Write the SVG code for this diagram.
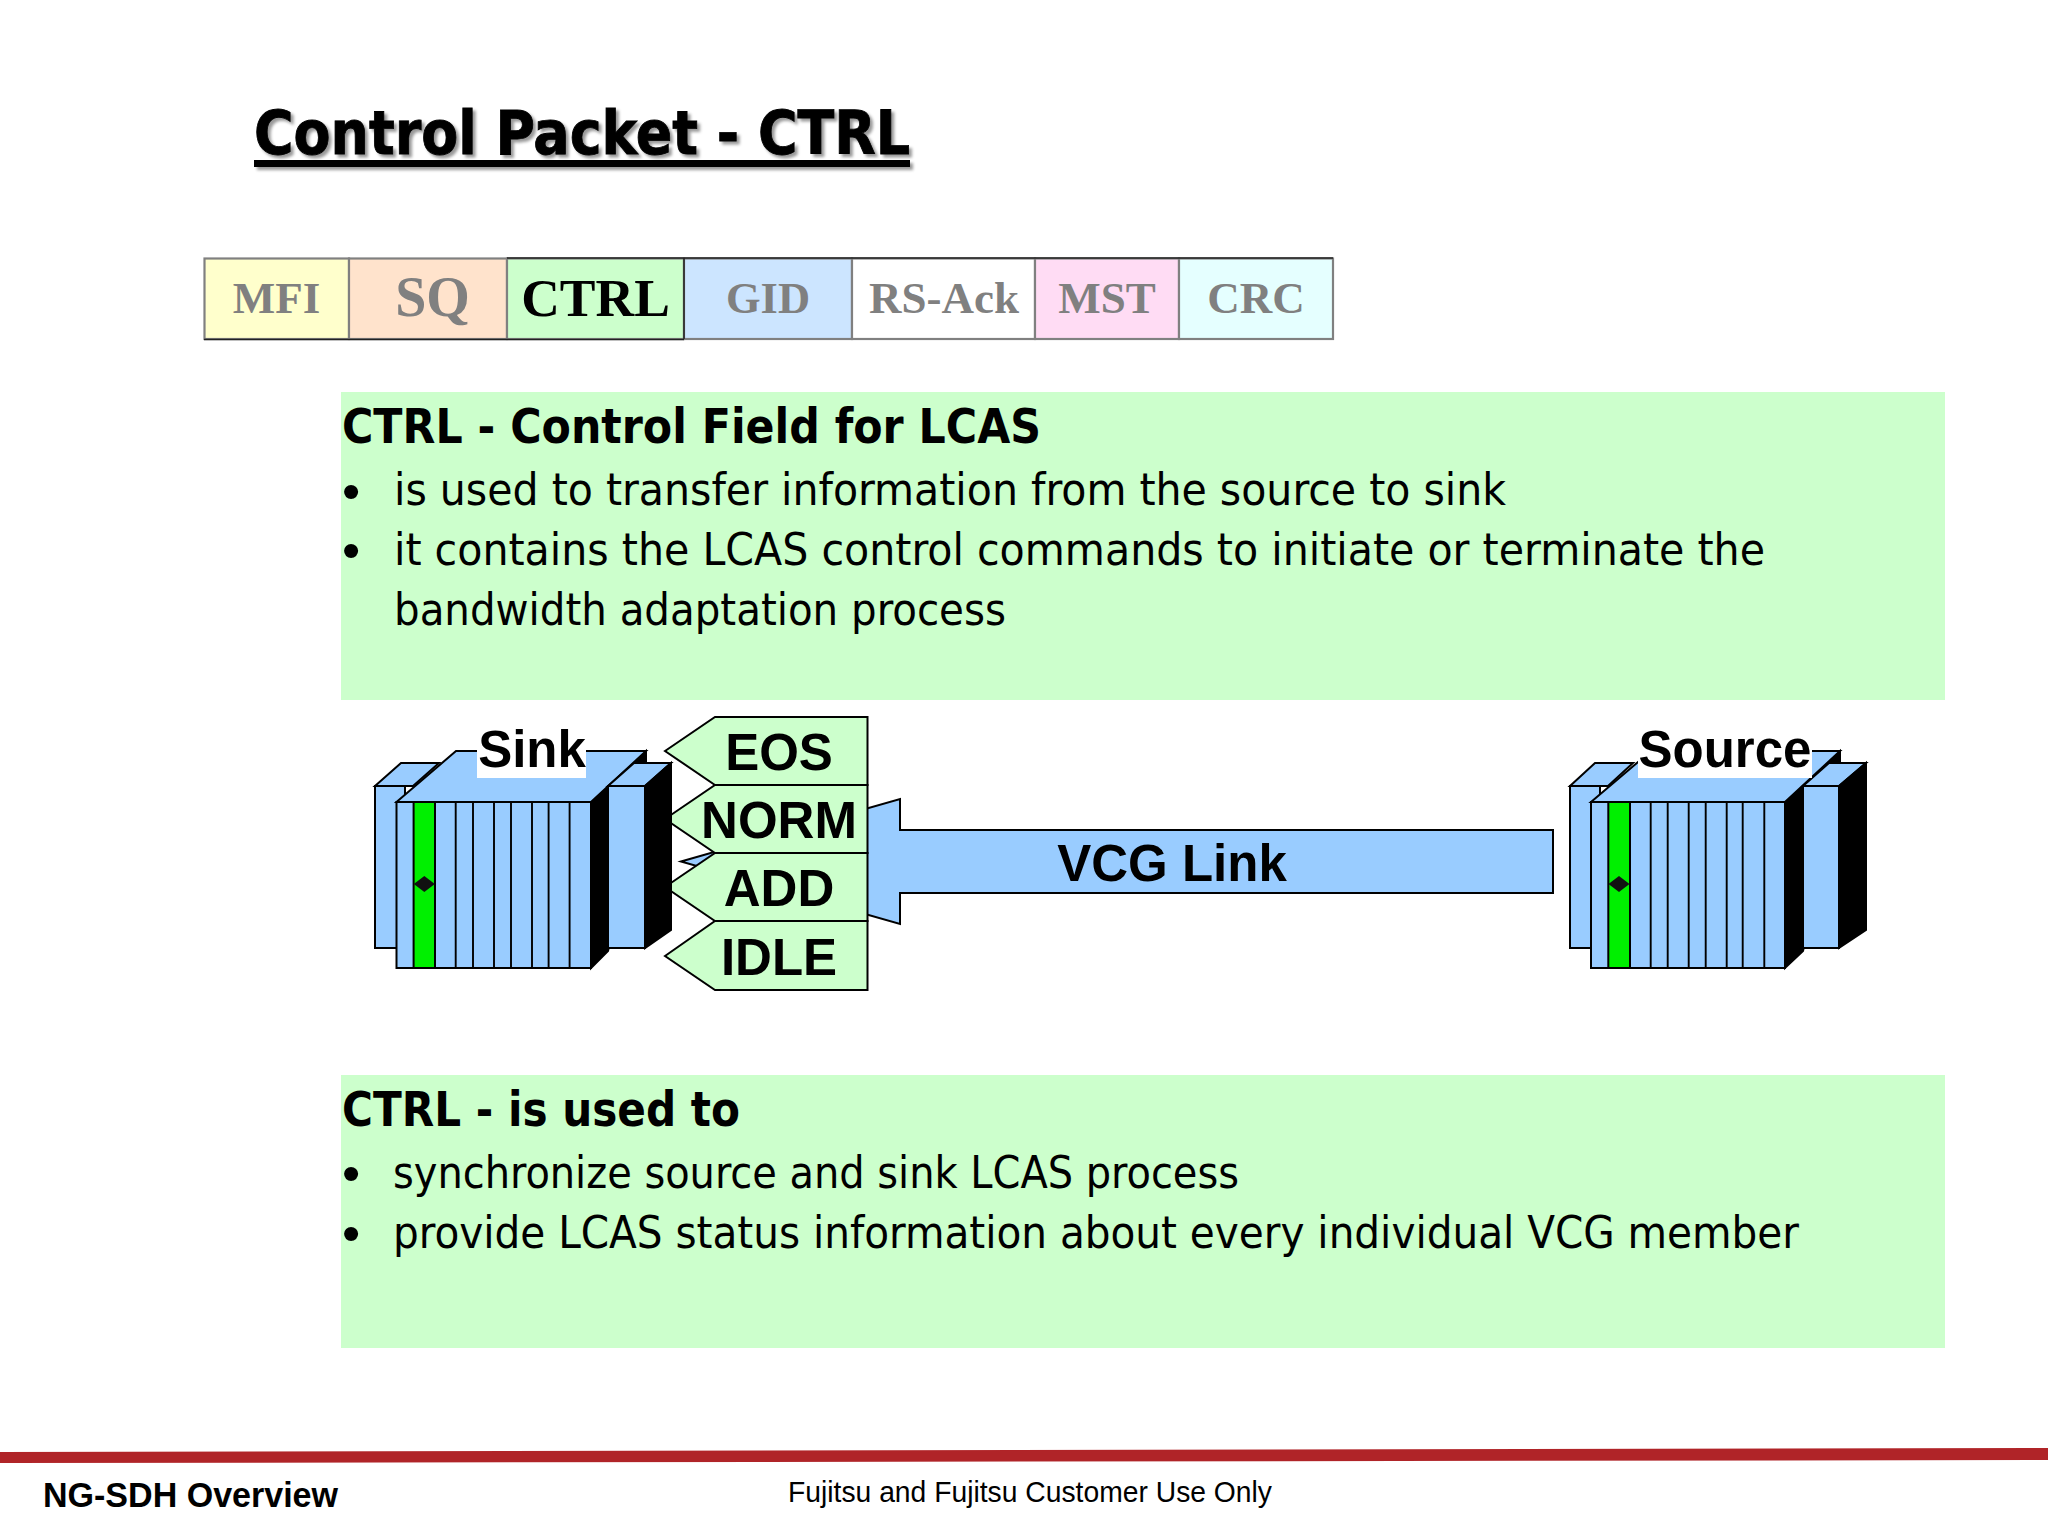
<svg xmlns="http://www.w3.org/2000/svg" width="2048" height="1536" viewBox="0 0 2048 1536">
<defs>
<style>
.panel{fill:#ccffcc}
.cell{stroke:#808080;stroke-width:2.2}
.cellt{font-family:"Liberation Serif","Times New Roman",serif;font-weight:bold;fill:#808080;text-anchor:middle}
.hd{font-family:"DejaVu Sans Condensed","DejaVu Sans",sans-serif;font-weight:bold;font-size:48px;fill:#000}
.bd{font-family:"DejaVu Sans Condensed","DejaVu Sans",sans-serif;font-size:44px;fill:#000}
.bl{font-family:"Liberation Sans",Arial,sans-serif;font-size:52px;fill:#000}
.lab{font-family:"Liberation Sans",Arial,sans-serif;font-weight:bold;font-size:51px;fill:#000;text-anchor:middle}
.b{fill:#99ccff;stroke:#000;stroke-width:2;stroke-linejoin:miter}
.k{fill:#000;stroke:#000;stroke-width:2}
.g{fill:#00f000;stroke:#000;stroke-width:2}
.s{fill:none;stroke:#000;stroke-width:1.9}
.tag{fill:#ccffcc;stroke:#000;stroke-width:2}
</style>
<filter id="shadow" x="-5%" y="-20%" width="110%" height="140%">
<feDropShadow dx="3" dy="3" stdDeviation="1.5" flood-color="#000" flood-opacity="0.4"/>
</filter>
</defs>
<rect width="2048" height="1536" fill="#ffffff"/>

<g id="title" filter="url(#shadow)">
<text x="254" y="154" font-family="'DejaVu Sans Condensed','DejaVu Sans',sans-serif" font-weight="bold" font-size="60" textLength="656" lengthAdjust="spacingAndGlyphs" fill="#000" stroke="#000" stroke-width="0.8">Control Packet - CTRL</text>
<rect x="254" y="160" width="656" height="7" fill="#000"/>
</g>

<g id="packet-table">
<g id="cell-mfi"><rect class="cell" x="204.500" y="258.500" width="144.500" height="80.500" fill="#ffffcc"/><text class="cellt" x="276.500" y="313" font-size="45">MFI</text></g>
<g id="cell-sq"><rect class="cell" x="349" y="258.500" width="158" height="80.500" fill="#ffe3cc"/><text class="cellt" x="432.500" y="316" font-size="56">SQ</text></g>
<g id="cell-ctrl"><rect class="cell" x="507" y="258.500" width="177" height="80.500" fill="#ccffcc"/><text class="cellt" x="595.500" y="316" font-size="53.500" style="fill:#000">CTRL</text></g>
<g id="cell-gid"><rect class="cell" x="684" y="258.500" width="168" height="80.500" fill="#cce5ff"/><text class="cellt" x="768" y="313" font-size="44.500">GID</text></g>
<g id="cell-rsack"><rect class="cell" x="852" y="258.500" width="183" height="80.500" fill="#ffffff"/><text class="cellt" x="944" y="313" font-size="45">RS-Ack</text></g>
<g id="cell-mst"><rect class="cell" x="1035" y="258.500" width="144" height="80.500" fill="#ffdcf4"/><text class="cellt" x="1107" y="313" font-size="45">MST</text></g>
<g id="cell-crc"><rect class="cell" x="1179" y="258.500" width="154" height="80.500" fill="#e5ffff"/><text class="cellt" x="1256" y="313" font-size="45">CRC</text></g>
<path d="M507 258H1333M204 339.500H684M684 258V339" fill="none" stroke="#222" stroke-width="1.500"/>
</g>

<g id="panel-top">
<rect class="panel" x="341" y="392" width="1604" height="308"/>
<text class="hd" x="342" y="443" textLength="699" lengthAdjust="spacingAndGlyphs">CTRL - Control Field for LCAS</text>
<text class="bl" x="342" y="509">•</text>
<text class="bd" x="394" y="505" textLength="1112" lengthAdjust="spacingAndGlyphs">is used to transfer information from the source to sink</text>
<text class="bl" x="342" y="568">•</text>
<text class="bd" x="394" y="565" textLength="1371" lengthAdjust="spacingAndGlyphs">it contains the LCAS control commands to initiate or terminate the</text>
<text class="bd" x="394" y="625" textLength="612" lengthAdjust="spacingAndGlyphs">bandwidth adaptation process</text>
</g>

<g id="panel-bottom">
<rect class="panel" x="341" y="1075" width="1604" height="273"/>
<text class="hd" x="342" y="1125.500" textLength="398" lengthAdjust="spacingAndGlyphs">CTRL - is used to</text>
<text class="bl" x="342" y="1191">•</text>
<text class="bd" x="393" y="1187.500" textLength="846" lengthAdjust="spacingAndGlyphs">synchronize source and sink LCAS process</text>
<text class="bl" x="342" y="1251">•</text>
<text class="bd" x="393" y="1247.500" textLength="1406" lengthAdjust="spacingAndGlyphs">provide LCAS status information about every individual VCG member</text>
</g>

<g id="connectors">
<polygon id="vcg-link" class="b" points="681,861.500 900,799 900,830 1553,830 1553,893 900,893 900,924"/>
<text class="lab" x="1172" y="881">VCG Link</text>
</g>

<g id="tags">
<g id="tag-eos"><polygon class="tag" points="665,751 715,717 867.500,717 867.500,785 715,785"/><text class="lab" x="779" y="770">EOS</text></g>
<g id="tag-norm"><polygon class="tag" points="665,819 715,785 867.500,785 867.500,853 715,853"/><text class="lab" x="779" y="838">NORM</text></g>
<g id="tag-add"><polygon class="tag" points="665,887 715,853 867.500,853 867.500,921 715,921"/><text class="lab" x="779" y="906">ADD</text></g>
<g id="tag-idle"><polygon class="tag" points="665,956 715,921 867.500,921 867.500,990 715,990"/><text class="lab" x="779" y="975">IDLE</text></g>
</g>

<g id="sink">
<polygon class="b" points="375,786 401,763 439,763 413,786"/>
<rect class="b" x="375" y="786" width="30" height="162"/>
<polygon class="k" points="591,802 646,751 646,790 608,951 591,968"/>
<polygon class="b" points="396.500,802 456,751 646,751 591,802"/>
<rect class="b" x="396.500" y="802" width="194.500" height="166"/>
<rect class="g" x="413.600" y="802" width="21.400" height="166"/>
<path class="s" d="M455.700 802V968M473 802V968M494 802V968M511 802V968M532 802V968M548.600 802V968M569.600 802V968"/>
<polygon points="413.800,884 424.300,876 434.800,884 424.300,892" fill="#111"/>
<polygon class="b" points="608,786 634,763 671,763 645,786"/>
<polygon class="k" points="645,786 671,763 671,930 645,948"/>
<rect class="b" x="608" y="786" width="37" height="162"/>
<rect x="477" y="725" width="109" height="53" fill="#ffffff"/>
<text class="lab" x="532" y="766.500">Sink</text>
</g>

<g id="source">
<polygon class="b" points="1570,786 1595,763 1633,763 1608,786"/>
<rect class="b" x="1570" y="786" width="30" height="162"/>
<polygon class="k" points="1785,802 1840,751 1840,790 1803,951 1785,968"/>
<polygon class="b" points="1591,802 1651,751 1840,751 1785,802"/>
<rect class="b" x="1591" y="802" width="194" height="166"/>
<rect class="g" x="1608.300" y="802" width="21.700" height="166"/>
<path class="s" d="M1650.700 802V968M1667.700 802V968M1688.700 802V968M1705.700 802V968M1726.700 802V968M1742.700 802V968M1764.300 802V968"/>
<polygon points="1608.500,884 1619,876 1629.500,884 1619,892" fill="#111"/>
<polygon class="b" points="1803,786 1829,763 1866,763 1839,786"/>
<polygon class="k" points="1839,786 1866,763 1866,930 1839,948"/>
<rect class="b" x="1803" y="786" width="36" height="162"/>
<rect x="1638" y="725" width="174" height="53" fill="#ffffff"/>
<text class="lab" x="1725" y="766.500">Source</text>
</g>

<g id="footer">
<polygon points="0,1452 2048,1448 2048,1460 0,1463" fill="#b02428"/>
<text x="43" y="1507" font-family="'Liberation Sans',Arial,sans-serif" font-weight="bold" font-size="35" textLength="295" lengthAdjust="spacingAndGlyphs" fill="#000">NG-SDH Overview</text>
<text x="788" y="1502" font-family="'Liberation Sans',Arial,sans-serif" font-size="29.500" textLength="484" lengthAdjust="spacingAndGlyphs" fill="#000">Fujitsu and Fujitsu Customer Use Only</text>
</g>
</svg>
